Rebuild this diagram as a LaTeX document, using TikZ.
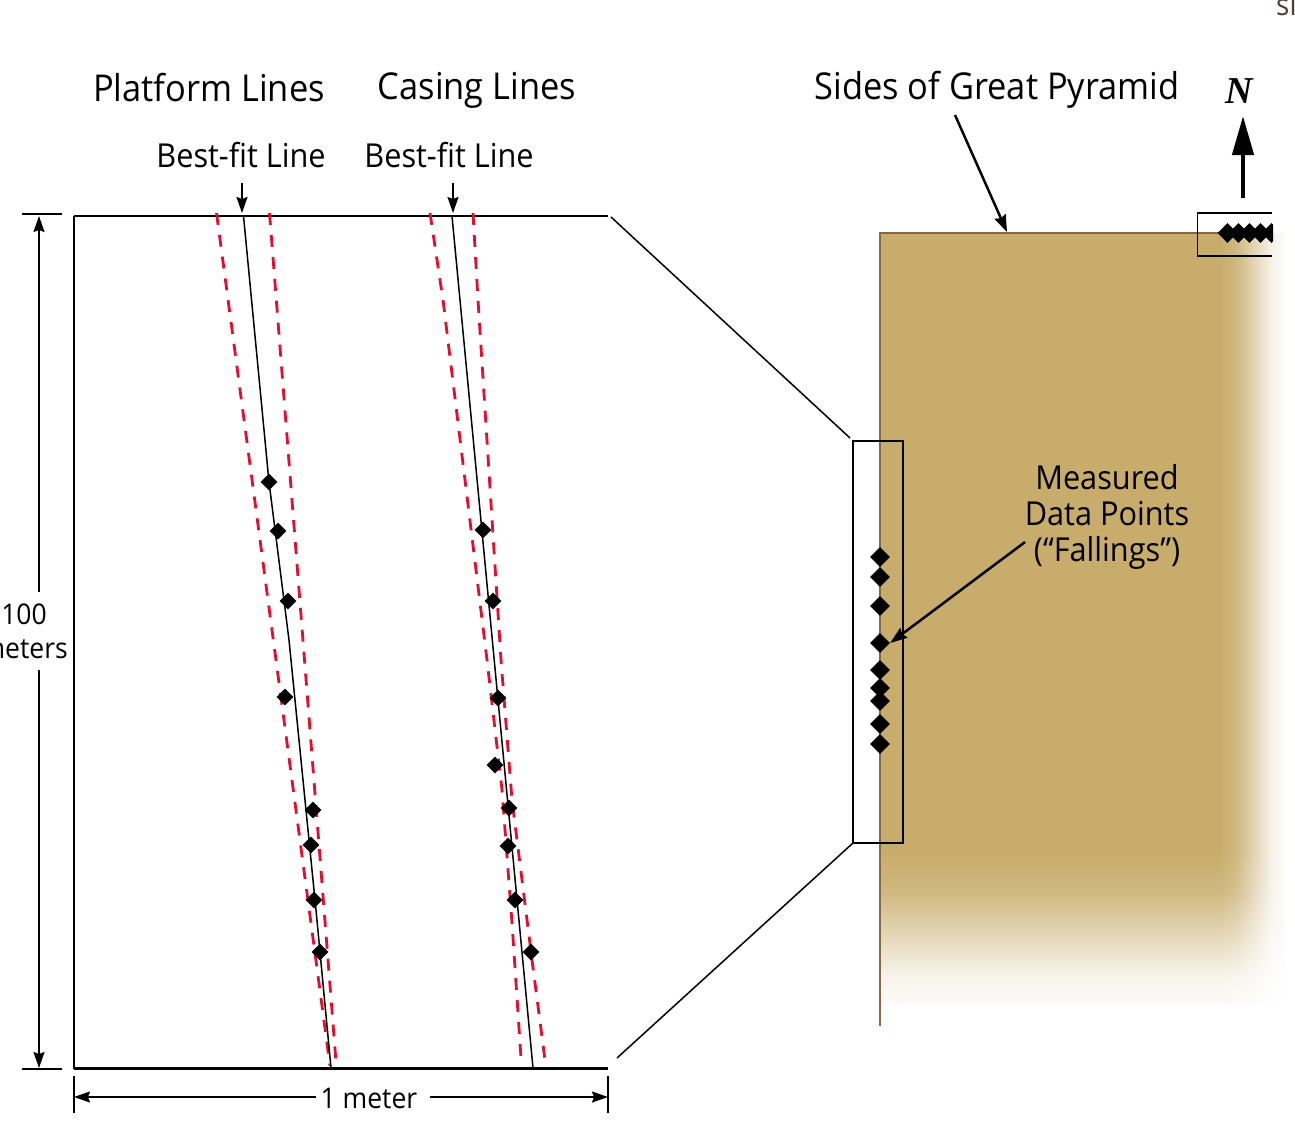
\documentclass[tikz,border=0pt]{standalone}
\usepackage{fontspec}
\setmainfont[FakeStretch=0.93]{Open Sans}
\newfontfamily\nfont{Liberation Serif}
\usetikzlibrary{arrows.meta,fadings,shapes.geometric}
\definecolor{sand}{RGB}{200,172,107}
\definecolor{edge}{RGB}{135,105,65}
\definecolor{redd}{RGB}{225,15,45}
\pgfdeclarehorizontalshading{shR}{100bp}{color(0bp)=(black);color(25bp)=(black);color(37.5bp)=(white!14!black);color(50bp)=(white!50!black);color(62.5bp)=(white!86!black);color(75bp)=(white);color(100bp)=(white)}
\pgfdeclareverticalshading{shB}{100bp}{color(0bp)=(white);color(25bp)=(white);color(37.5bp)=(white!86!black);color(50bp)=(white!50!black);color(62.5bp)=(white!14!black);color(75bp)=(black);color(100bp)=(black)}
\tikzfading[name=fadeR, shading=shR]
\tikzfading[name=fadeB, shading=shB]
\tikzset{
 x=1pt,y=-1pt,
 lab/.style={inner sep=0pt,align=center,font=\fontsize{28.5}{34}\selectfont},
 big/.style={lab,font=\fontsize{37}{42}\selectfont},
 mid/.style={lab,font=\fontsize{33}{36}\selectfont},
 dia/.style={diamond,fill=black,inner sep=0pt,minimum size=17pt},
 bigdia/.style={dia,minimum size=20pt},
 bestfit/.style={line width=1.5pt},
 reddash/.style={line width=2.8pt,redd,dash pattern=on 12pt off 10pt},
 frameline/.style={line width=2.7pt},
 thinline/.style={line width=1.5pt},
 dim/.style={line width=1.7pt,-{Stealth[length=16pt,width=11pt,inset=2pt]}},
 pointer/.style={line width=2.5pt,-{Stealth[length=17pt,width=12pt,inset=2pt]}},
}
\begin{document}
\begin{tikzpicture}
\useasboundingbox (0,0) rectangle (1295,1140);
% pyramid
\fill[sand] (880,233) rectangle (1285,1005);
\begin{scope}
\clip (0,0) rectangle (1295,1140);
\fill[white,path fading=fadeR] (1218,225) rectangle (1290,1010);
\fill[white,path fading=fadeB] (878,850) rectangle (1290,1016);
\end{scope}
\draw[edge,line width=1.8pt] (880,1026) -- (880,233) -- (1272,233);
% frame
\draw[frameline] (74,216) -- (608,216);
\draw[frameline] (74,1068.5) -- (608,1068.5);
\draw[frameline] (74,216) -- (74,1068.5);
% dim left
\coordinate (dt) at (39,216); \coordinate (db) at (39,1068);
\draw[thinline] (22,214) -- (62,214);
\draw[thinline] (22,1069) -- (62,1069);
\node[lab] (hundred) at (24,614) {100};
\node[lab,anchor=east] (meters) at (68,649) {meters};
\draw[dim] (39,592) -- (dt);
\draw[dim] (39,670) -- (db);
% dim bottom
\draw[thinline] (74,1076) -- (74,1113);
\draw[thinline] (608,1076) -- (608,1113);
\node[lab] (onem) at (369,1098) {1 meter};
\draw[dim] (316,1097) -- (74,1097);
\draw[dim] (430,1097) -- (608,1097);
% red
\draw[reddash] (216.5,213) -- (330,1066);
\draw[reddash] (269.5,213) -- (336,1062);
\draw[reddash] (430,213) -- (443,300) -- (487,660) -- (502,790) -- (512,923) -- (521,1058);
\draw[reddash] (473,213) -- (478,300) -- (501,660) -- (512,800) -- (532,960) -- (545,1060);
% best fit
\draw[bestfit] (243.5,216) -- (269,482) -- (289,640) -- (316,910) -- (331,1068);
\draw[bestfit] (452,216) -- (533,1068);
% diamonds
\foreach \n/\x/\y in {a/269/482,b/278/531,c/288/601,d/285/697,e/313/810,f/311/845,g/314/900,h/320/952,
 i/483/530,j/493/601,k/498/698,l/495/765,m/509/808,n/508/846,o/515/900,p/531/952}
  \node[dia] (\n) at (\x,\y) {};
% titles
\node[big] (plat) at (209,88) {Platform Lines};
\node[big] (cas) at (477,90) {Casing Lines};
\node[big] (sides) at (997,90) {Sides of Great Pyramid};
\node[mid] (bf1) at (241,155) {Best-fit Line};
\node[mid] (bf2) at (449,155) {Best-fit Line};
\coordinate (bf1t) at (242,213); \coordinate (bf2t) at (453,213);
\draw[dim] (242,183) -- (bf1t);
\draw[dim] (453,183) -- (bf2t);
% zoom lines
\draw[thinline] (611,217) -- (850,438);
\draw[thinline] (617,1058) -- (853,843);
% box
\draw[frameline] (853,441) rectangle (903,843);
\foreach \n/\y in {q/557,r/577,s/606,t/643,u/670,v/688,w/701,y/724,z/744}
  \node[bigdia] (\n) at (880,\y) {};
% pointers
\coordinate (s1) at (955,115); \coordinate (s2) at (1007,232);
\draw[pointer] (s1) -- (s2);
\node[mid] (meas) at (1107,517) {Measured\\Data Points\\(“Fallings”)};
\coordinate (m1) at (1025,542);
\draw[pointer] (m1) -- (t.east);
% north
\node[inner sep=0pt,font=\nfont\bfseries\itshape\fontsize{38}{38}\selectfont] (N) at (1239,91) {N};
\coordinate (n1) at (1243,198); \coordinate (n2) at (1243,116);
\draw[line width=4.5pt,-{Triangle[length=39pt,width=21pt]}] (n1) -- (n2);
% inset
\draw[line width=1.8pt] (1272,213) -- (1197.5,213) -- (1197.5,256) -- (1272,256);
\begin{scope}
\clip (1190,210) rectangle (1273,260);
\foreach \n/\x in {i1/1227.5,i2/1238.5,i3/1249.5,i4/1260.5,i5/1271.5}
  \node[bigdia] (\n) at (\x,233) {};
\end{scope}
% corner fragment
\node[inner sep=0pt,anchor=west,text=edge!60!black,font=\fontsize{30}{30}\selectfont] (sl) at (1276,4) {sl};
\end{tikzpicture}
\end{document}
